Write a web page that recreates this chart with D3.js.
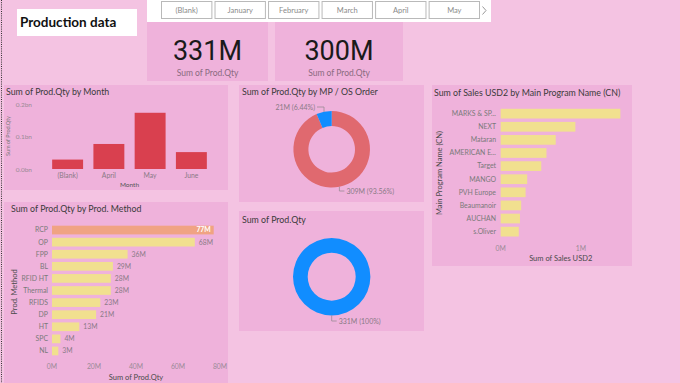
<!DOCTYPE html>
<html><head><meta charset="utf-8">
<script src="https://cdn.jsdelivr.net/npm/d3@7"></script>
<style>body{margin:0;background:#f4c3e2;}svg{display:block;}</style>
</head><body><svg id="c" width="680" height="383"></svg>
<script>
// ---------- data ----------
const slicerMonths = ["(Blank)","January","February","March","April","May"];
const cardValues = [331, 300];            // millions
const cardLabels = ["Sum of Prod.Qty","Sum of Prod.Qty"];
const months = ["(Blank)","April","May","June"];
const monthQty = [29, 77, 173, 52];       // millions
const monthTicks = [0, 100, 200];         // millions
const methods = ["RCP","OP","FPP","BL","RFID HT","Thermal","RFIDS","DP","HT","SPC","NL"];
const methodQty = [77, 68, 36, 29, 28, 28, 23, 21, 13, 4, 3]; // millions
const methodTicks = [0, 20, 40, 60, 80];
const orderTypes = ["OS Order","MP Order"];
const orderQty = [309.4, 21.3];           // millions
const totalQty = [331];
const programs = ["MARKS & SP...","NEXT","Mataran","AMERICAN E...","Target","MANGO","PVH Europe","Beaumanoir","AUCHAN","s.Oliver"];
const programSales = [1.49, 0.93, 0.685, 0.57, 0.505, 0.33, 0.31, 0.255, 0.24, 0.225]; // millions USD
const programTicks = [0, 1];

// ---------- style ----------
const BG = "#f4c3e2", PANEL = "#efb2db";
const FONT = "Lato, 'Open Sans', sans-serif";
const TITLE = 8.8, AXT = 7.5, CAT = 6.9;
const svg = d3.select("#c");
svg.append("rect").attr("width",680).attr("height",383).attr("fill",BG);
svg.append("line").attr("x1",1.5).attr("x2",1.5).attr("y1",0).attr("y2",383)
  .attr("stroke","#333").attr("stroke-dasharray","1,1.2");

function panel(x,y,w,h,fill){ svg.append("rect").attr("x",x).attr("y",y).attr("width",w).attr("height",h).attr("fill",fill||PANEL); }
function text(x,y,s,o){
  o=o||{};
  const t = svg.append("text").attr("x",x).attr("y",y).text(s)
    .attr("font-family",o.font||FONT).attr("font-size",o.size||7)
    .attr("fill",o.fill||"#777").attr("text-anchor",o.anchor||"start");
  if(o.weight) t.attr("font-weight",o.weight);
  if(o.rotate) t.attr("transform",`rotate(-90,${x},${y})`);
  return t;
}

// ---------- title box ----------
panel(17,9,120,27,"#ffffff");
text(20,27,"Production data",{size:13.5,weight:"bold",fill:"#111"});

// ---------- slicer ----------
panel(147,0,344,22,"#ffffff");
const sx = d3.scaleBand().domain(slicerMonths).range([161,480]).paddingInner(0.04).paddingOuter(0);
slicerMonths.forEach(m=>{
  svg.append("rect").attr("x",sx(m)+0.5).attr("y",1.5).attr("width",sx.bandwidth()-1).attr("height",17)
    .attr("fill","#fff").attr("stroke","#b9b9b9").attr("stroke-width",1);
  text(sx(m)+sx.bandwidth()/2,12.5,m,{anchor:"middle",size:7.5,fill:"#8a8a8a"});
});
svg.append("path").attr("d","M482.5,6.5 L486,10.5 L482.5,14.5").attr("fill","none").attr("stroke","#999").attr("stroke-width",1);

// ---------- cards ----------
const cardBoxes = [[147,22,121,59],[275,22,128,59]];
cardValues.forEach((v,i)=>{
  const b = cardBoxes[i];
  panel(b[0],b[1],b[2],b[3]);
  text(b[0]+b[2]/2,59.5,d3.format(".0f")(v)+"M",{anchor:"middle",size:27,fill:"#1a1a1a",font:"Roboto, Lato, sans-serif"});
  text(b[0]+b[2]/2,75.5,cardLabels[i],{anchor:"middle",size:8.5,fill:"#8a6a80"});
});

// ---------- month column chart ----------
panel(4,85,224,105);
text(6,95,"Sum of Prod.Qty by Month",{size:TITLE,fill:"#3a3a3a"});
const mx = d3.scaleBand().domain(months).range([47,212]).paddingInner(0.25).paddingOuter(0.125);
const my = d3.scaleLinear().domain([0,200]).range([169,104]);
monthTicks.forEach(t=>text(32,my(t)+2.5,(t/1000).toFixed(1)+"bn",{anchor:"end",size:6.5,fill:"#9a8a96"}));
svg.append("g").selectAll("rect").data(months).join("rect")
  .attr("x",d=>mx(d)).attr("width",mx.bandwidth())
  .attr("y",(d,i)=>my(monthQty[i])).attr("height",(d,i)=>my(0)-my(monthQty[i]))
  .attr("fill","#d9404f");
months.forEach(m=>text(mx(m)+mx.bandwidth()/2,178,m,{anchor:"middle",size:6.8,fill:"#8a7a86"}));
text((47+212)/2,187,"Month",{anchor:"middle",size:6.5,fill:"#555"});
text(10,136,"Sum of Prod.Qty",{anchor:"middle",size:5.5,fill:"#777",rotate:true});

// ---------- prod method bar chart ----------
panel(4,202,224,181);
text(11,212,"Sum of Prod.Qty by Prod. Method",{size:TITLE,fill:"#3a3a3a"});
const py = d3.scaleBand().domain(methods).range([224,357]).paddingInner(0.28).paddingOuter(0.14);
const px = d3.scaleLinear().domain([0,80]).range([52,220]);
svg.append("g").selectAll("rect").data(methods).join("rect")
  .attr("x",px(0)).attr("y",d=>py(d)).attr("height",py.bandwidth())
  .attr("width",(d,i)=>px(methodQty[i])-px(0))
  .attr("fill",(d,i)=>i===0?"#f0a383":"#f1e08f");
methods.forEach((m,i)=>{
  const cy = py(m)+py.bandwidth()/2+2.4;
  text(48,cy,m,{anchor:"end",size:CAT,fill:"#7a7a7a"});
  if(i===0) text(px(methodQty[i])-3,cy,methodQty[i]+"M",{anchor:"end",size:6.8,fill:"#ffffff",weight:"bold"});
  else text(px(methodQty[i])+4,cy,methodQty[i]+"M",{size:6.8,fill:"#8a7a86"});
});
methodTicks.forEach(t=>text(px(t),369,t+"M",{anchor:"middle",size:6.8,fill:"#9a8a96"}));
text(136,380,"Sum of Prod.Qty",{anchor:"middle",size:AXT,fill:"#4a4a4a"});
text(17,292,"Prod. Method",{anchor:"middle",size:AXT,fill:"#4a4a4a",rotate:true});

// ---------- donuts ----------
function donut(cx,cy,ro,ri,vals,colors,labelFn,labelYs){
  const pie = d3.pie().sort(null).value(d=>d);
  const arcs = pie(vals);
  const arc = d3.arc().innerRadius(ri).outerRadius(ro);
  const g = svg.append("g").attr("transform",`translate(${cx},${cy})`);
  g.selectAll("path").data(arcs).join("path").attr("d",arc).attr("fill",(d,i)=>colors[i]);
  const tot = d3.sum(vals);
  arcs.forEach((a,i)=>{
    const m = (a.startAngle+a.endAngle)/2;
    const p0 = [Math.sin(m)*ro, -Math.cos(m)*ro];
    const ly = labelYs[i]-cy;
    const right = Math.sin(m) > 0.01 || vals.length===1;
    const hx = right ? p0[0]+5 : p0[0]-7;
    g.append("path").attr("d",`M${p0[0]},${p0[1]} L${p0[0]},${ly} L${hx},${ly}`)
      .attr("fill","none").attr("stroke","#9a8a96").attr("stroke-width",0.8);
    text(cx+hx+(right?2:-2),cy+ly+2.5,labelFn(vals[i],vals[i]/tot),{anchor:right?"start":"end",size:7,fill:"#8a7a86"});
  });
}
panel(239,85,185,117);
text(242,95,"Sum of Prod.Qty by MP / OS Order",{size:TITLE,fill:"#3a3a3a"});
donut(331.7,149.3,38.3,23.3,orderQty,["#e0696f","#118dff"],
  (v,p)=>d3.format(".0f")(v)+"M ("+d3.format(".2%")(p)+")",[191,107]);

panel(239,211,185,120);
text(242,222.5,"Sum of Prod.Qty",{size:TITLE,fill:"#3a3a3a"});
donut(331.7,276.7,38.7,24,totalQty,["#118dff"],
  (v,p)=>d3.format(".0f")(v)+"M ("+d3.format(".0%")(p)+")",[321]);

// ---------- program bar chart ----------
panel(432,85,200,181);
text(434,96,"Sum of Sales USD2 by Main Program Name (CN)",{size:TITLE,fill:"#3a3a3a"});
const ry = d3.scaleBand().domain(programs).range([107.1,238.2]).paddingInner(0.26).paddingOuter(0.13);
const rx = d3.scaleLinear().domain([0,1]).range([500.7,581]);
svg.append("g").selectAll("rect").data(programs).join("rect")
  .attr("x",rx(0)).attr("y",d=>ry(d)).attr("height",ry.bandwidth())
  .attr("width",(d,i)=>rx(programSales[i])-rx(0)).attr("fill","#f1e08f");
programs.forEach(p=>text(496,ry(p)+ry.bandwidth()/2+2.4,p,{anchor:"end",size:CAT,fill:"#7a7a7a"}));
programTicks.forEach(t=>text(rx(t),250.5,t+"M",{anchor:"middle",size:6.8,fill:"#9a8a96"}));
text(560.7,261,"Sum of Sales USD2",{anchor:"middle",size:AXT,fill:"#4a4a4a"});
text(442,173,"Main Program Name (CN)",{anchor:"middle",size:AXT,fill:"#4a4a4a",rotate:true});
</script></body></html>
